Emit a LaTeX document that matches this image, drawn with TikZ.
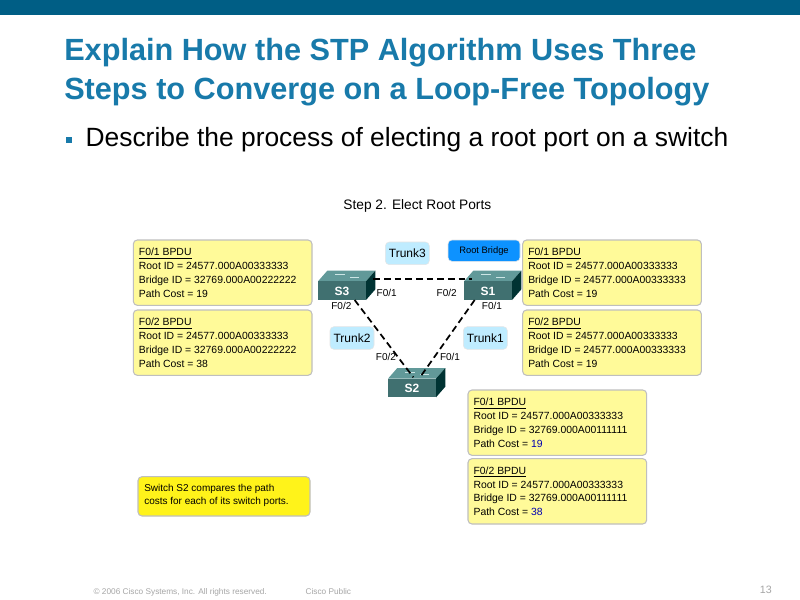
\documentclass[tikz,border=0pt]{standalone}
\usepackage{fontspec}
\setmainfont{Liberation Sans}
\definecolor{band}{RGB}{0,94,133}
\definecolor{ttl}{RGB}{24,122,170}
\begin{document}
\begin{tikzpicture}[x=1pt,y=-1pt,
  ybox/.style={draw=black!25,fill=yellow!40!white,rounded corners=3pt,line width=0.8pt},
  btext/.style={anchor=north west,align=left,font=\fontsize{7.8}{10.3}\selectfont,inner sep=0pt},
  trunk/.style={fill=blue!30!cyan!25!white,draw=black!10,rounded corners=3pt,font=\fontsize{9}{10}\selectfont,minimum width=33pt,minimum height=17pt,inner sep=1pt},
  link/.style={line width=1.3pt,dash pattern=on 5pt off 3pt},
  port/.style={font=\fontsize{7.5}{8}\selectfont,inner sep=0pt},
  swtext/.style={font=\bfseries\fontsize{9}{10}\selectfont,text=white,inner sep=0pt}]
\useasboundingbox (0,0) rectangle (600,450);
\fill[white] (0,0) rectangle (600,450);
\fill[band] (0,0) rectangle (600,11);
\node[anchor=west,font=\bfseries\fontsize{23}{29.5}\selectfont,text=ttl,align=left,inner sep=0pt] (title) at (48,54) {Explain How the STP Algorithm Uses Three\\Steps to Converge on a Loop-Free Topology};
\node[fill=ttl,minimum size=4.5pt,inner sep=0pt] (bul) at (52,105) {};
\node[anchor=west,font=\fontsize{19.8}{22}\selectfont,inner sep=0pt] (sub) at (64,105) {Describe the process of electing a root port on a switch};
\node[font=\fontsize{10.3}{11}\selectfont] (step) at (313,154.5) {Step 2. Elect Root Ports};
% boxes
\newcommand{\bpdu}[6]{%
 \draw[ybox] (#1,#2) rectangle ++(134,49);
 \node[btext] (#3) at (#1+4,#2+6) {\underline{#4}\\Root ID = 24577.000A00333333\\Bridge ID = #5\\Path Cost = #6};}
\bpdu{100}{180}{b1}{F0/1 BPDU}{32769.000A00222222}{19}
\bpdu{100}{232.5}{b2}{F0/2 BPDU}{32769.000A00222222}{38}
\bpdu{392}{180}{b3}{F0/1 BPDU}{24577.000A00333333}{19}
\bpdu{392}{232.5}{b4}{F0/2 BPDU}{24577.000A00333333}{19}
\bpdu{351}{292.5}{b5}{F0/1 BPDU}{32769.000A00111111}{\textcolor{blue!70!black}{19}}
\bpdu{351}{344}{b6}{F0/2 BPDU}{32769.000A00111111}{\textcolor{blue!70!black}{38}}
\draw[draw=black!25,fill=yellow!90!white,rounded corners=3pt,line width=0.8pt] (103.5,357.5) rectangle (232.5,387);
\node[btext,font=\fontsize{7.5}{9.5}\selectfont] (note) at (108,363) {Switch S2 compares the path\\costs for each of its switch ports.};
% switches
\newcommand{\sw}[4]{%
 \fill[teal!55!gray!80!white] (#1,#2+8) -- (#1+7,#2) -- (#1+43,#2) -- (#1+36,#2+8) -- cycle;
 \fill[teal!50!black!75] (#1,#2+8) rectangle (#1+36,#2+22);
 \fill[teal!40!black] (#1+36,#2+8) -- (#1+43,#2) -- (#1+43,#2+14) -- (#1+36,#2+22) -- cycle;
 \draw[white!80!teal,line width=0.6pt] (#1+13,#2+3) -- (#1+20,#2+3) (#1+24,#2+5) -- (#1+31,#2+5);
 \node[swtext] (#3) at (#1+18,#2+15.5) {#4};}
\sw{238.5}{203}{s3}{S3}
\sw{348}{203}{s1}{S1}
\sw{291}{276}{s2}{S2}
\coordinate (s3r) at (280,209);
\coordinate (s1l) at (354,209);
\coordinate (s3b) at (266,225);
\coordinate (s2t) at (310,283);
\coordinate (s1b) at (356,225);
\coordinate (s2t2) at (315,283);
\draw[link] (s3r) -- (s1l);
\draw[link] (s3b) -- (s2t);
\draw[link] (s1b) -- (s2t2);
\node[port] (p1) at (290,220) {F0/1};
\node[port] (p2) at (335,220) {F0/2};
\node[port] (p3) at (256,229.5) {F0/2};
\node[port] (p4) at (369,229.5) {F0/1};
\node[port] (p5) at (289.5,268) {F0/2};
\node[port] (p6) at (337.5,268) {F0/1};
\node[trunk] (t3) at (305.5,190) {Trunk3};
\node[trunk] (t2) at (264,253.5) {Trunk2};
\node[trunk] (t1) at (364,253.5) {Trunk1};
\node[fill=blue!45!cyan!95!white,draw=black!10,rounded corners=3pt,font=\fontsize{7}{8}\selectfont,minimum width=54pt,minimum height=16pt,inner sep=1pt] (rb) at (363,188) {Root Bridge};
\node[anchor=west,font=\fontsize{6.2}{7}\selectfont,text=black!35,inner sep=0pt] (c1) at (70,444) {© 2006 Cisco Systems, Inc. All rights reserved.};
\node[anchor=west,font=\fontsize{6.2}{7}\selectfont,text=black!35,inner sep=0pt] (c2) at (229,444) {Cisco Public};
\node[anchor=east,font=\fontsize{8}{9}\selectfont,text=black!35,inner sep=0pt] (pg) at (579,442) {13};
\end{tikzpicture}
\end{document}
